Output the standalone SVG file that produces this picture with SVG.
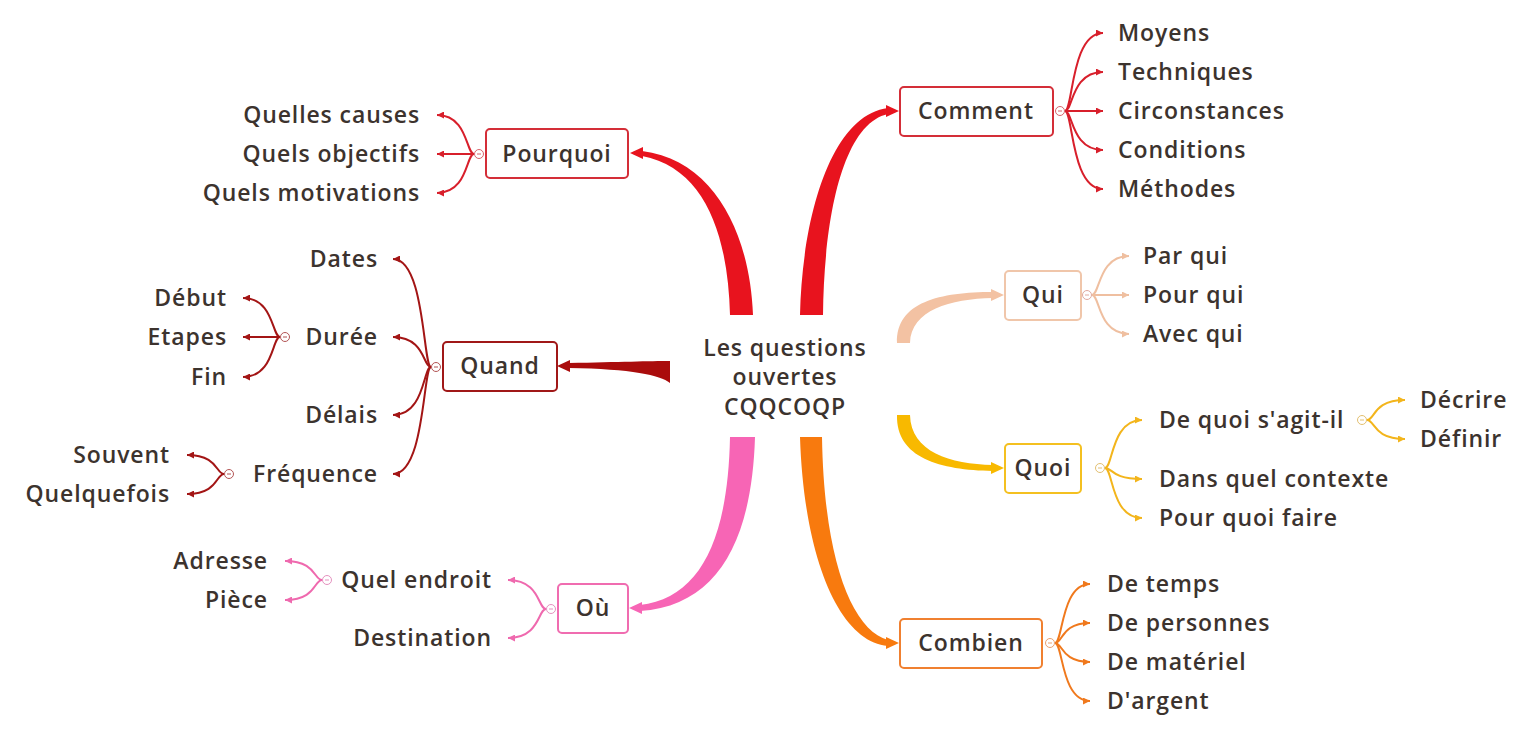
<svg xmlns="http://www.w3.org/2000/svg" width="1536" height="735" viewBox="0 0 1536 735">
<style>
text{font-family:"Open Sans","Noto Sans","Liberation Sans",sans-serif;font-weight:600;font-size:23px;letter-spacing:0.9px;fill:#3c332e}
.e{text-anchor:end}.m{text-anchor:middle}
.box{fill:#fff;stroke-width:2}
.br{fill:none;stroke-width:2}
.knob{fill:#fff;stroke-width:1}
</style>
<defs>
<marker id="a-red" viewBox="0 0 10 10" refX="10" refY="5" markerWidth="7" markerHeight="7" markerUnits="userSpaceOnUse" orient="auto"><path d="M0,0 L10,5 L0,10 z" fill="#d81f2b"/></marker>
<marker id="a-dred" viewBox="0 0 10 10" refX="10" refY="5" markerWidth="7" markerHeight="7" markerUnits="userSpaceOnUse" orient="auto"><path d="M0,0 L10,5 L0,10 z" fill="#a31515"/></marker>
<marker id="a-peach" viewBox="0 0 10 10" refX="10" refY="5" markerWidth="7" markerHeight="7" markerUnits="userSpaceOnUse" orient="auto"><path d="M0,0 L10,5 L0,10 z" fill="#efbfa0"/></marker>
<marker id="a-yel" viewBox="0 0 10 10" refX="10" refY="5" markerWidth="7" markerHeight="7" markerUnits="userSpaceOnUse" orient="auto"><path d="M0,0 L10,5 L0,10 z" fill="#f3b51c"/></marker>
<marker id="a-pink" viewBox="0 0 10 10" refX="10" refY="5" markerWidth="7" markerHeight="7" markerUnits="userSpaceOnUse" orient="auto"><path d="M0,0 L10,5 L0,10 z" fill="#ef69ae"/></marker>
<marker id="a-or" viewBox="0 0 10 10" refX="10" refY="5" markerWidth="7" markerHeight="7" markerUnits="userSpaceOnUse" orient="auto"><path d="M0,0 L10,5 L0,10 z" fill="#f0791d"/></marker>
</defs>
<rect width="1536" height="735" fill="#fff"/>

<g id="connectors">
  <g id="main-connectors">
    <path d="M753,315 C750,235 715,160 642,151 L642,156 C705,168 728,235 730,315 Z" fill="#e8131e"/>
    <path d="M630,153 L643,147 L643,159 Z" fill="#e8131e"/>
    <path d="M800,315 C802,220 830,115 888,108 L888,114 C842,124 824,220 823,315 Z" fill="#e8131e"/>
    <path d="M899,111 L886,105 L886,117 Z" fill="#e8131e"/>
    <path d="M897,343 C896,302 940,292 993,292 L993,298 C950,299 911,310 910,343 Z" fill="#f3c2a3"/>
    <path d="M1004,295 L991,289 L991,301 Z" fill="#f3c2a3"/>
    <path d="M670,361 L670,383 C660,375 632,369 569,368 L569,363 C620,362 650,361 670,361 Z" fill="#aa0c0c"/>
    <path d="M557,366 L570,360 L570,372 Z" fill="#aa0c0c"/>
    <path d="M897,415 C896,458 940,470 993,471 L993,465 C950,464 911,452 910,415 Z" fill="#f8b900"/>
    <path d="M1004,468 L991,462 L991,474 Z" fill="#f8b900"/>
    <path d="M755,437 C752,540 718,606 640,611 L640,605 C700,598 728,540 730,437 Z" fill="#f765b5"/>
    <path d="M629,608 L642,602 L642,614 Z" fill="#f765b5"/>
    <path d="M800,437 C804,560 840,642 888,646 L888,640 C852,630 824,560 822,437 Z" fill="#f87a0e"/>
    <path d="M899,643 L886,637 L886,649 Z" fill="#f87a0e"/>
  </g>
  <g id="pourquoi-branches" stroke="#d81f2b" marker-end="url(#a-red)">
    <path class="br" d="M474,154 C466,154 468,115 437,115"/>
    <path class="br" d="M474,154 L437,154"/>
    <path class="br" d="M474,154 C466,154 468,193 437,193"/>
  </g>
  <g id="comment-branches" stroke="#d81f2b" marker-end="url(#a-red)">
    <path class="br" d="M1065,111 C1073,111 1071,33 1103,33"/>
    <path class="br" d="M1065,111 C1073,111 1071,72 1103,72"/>
    <path class="br" d="M1065,111 L1103,111"/>
    <path class="br" d="M1065,111 C1073,111 1071,150 1103,150"/>
    <path class="br" d="M1065,111 C1073,111 1071,189 1103,189"/>
  </g>
  <g id="qui-branches" stroke="#efbfa0" marker-end="url(#a-peach)">
    <path class="br" d="M1092,295 C1100,295 1098,256 1129,256"/>
    <path class="br" d="M1092,295 L1129,295"/>
    <path class="br" d="M1092,295 C1100,295 1098,334 1129,334"/>
  </g>
  <g id="quand-branches" stroke="#a31515" marker-end="url(#a-dred)">
    <path class="br" d="M431,367 C423,367 425,259 393,259"/>
    <path class="br" d="M431,367 C423,367 425,337 393,337"/>
    <path class="br" d="M431,367 C423,367 425,415 393,415"/>
    <path class="br" d="M431,367 C423,367 425,474 393,474"/>
    <path class="br" d="M280,337 C272,337 274,298 243,298"/>
    <path class="br" d="M280,337 L243,337"/>
    <path class="br" d="M280,337 C272,337 274,377 243,377"/>
    <path class="br" d="M224,474 C216,474 218,455 187,455"/>
    <path class="br" d="M224,474 C216,474 218,494 187,494"/>
  </g>
  <g id="quoi-branches" stroke="#f3b51c" marker-end="url(#a-yel)">
    <path class="br" d="M1105,468 C1113,468 1111,420 1142,420"/>
    <path class="br" d="M1105,468 C1113,468 1111,479 1142,479"/>
    <path class="br" d="M1105,468 C1113,468 1111,518 1142,518"/>
    <path class="br" d="M1367,420 C1375,420 1373,400 1405,400"/>
    <path class="br" d="M1367,420 C1375,420 1373,439 1405,439"/>
  </g>
  <g id="ou-branches" stroke="#ef69ae" marker-end="url(#a-pink)">
    <path class="br" d="M546,609 C538,609 540,580 508,580"/>
    <path class="br" d="M546,609 C538,609 540,638 508,638"/>
    <path class="br" d="M322,580 C314,580 316,561 285,561"/>
    <path class="br" d="M322,580 C314,580 316,600 285,600"/>
  </g>
  <g id="combien-branches" stroke="#f0791d" marker-end="url(#a-or)">
    <path class="br" d="M1055,643 C1063,643 1061,584 1090,584"/>
    <path class="br" d="M1055,643 C1063,643 1061,623 1090,623"/>
    <path class="br" d="M1055,643 C1063,643 1061,662 1090,662"/>
    <path class="br" d="M1055,643 C1063,643 1061,701 1090,701"/>
  </g>
  <g id="knobs" stroke-width="1">
    <g stroke="#d8636b"><circle class="knob" cx="479" cy="154" r="4.5"/><path d="M477,154 h4"/><circle class="knob" cx="1060" cy="111" r="4.5"/><path d="M1058,111 h4"/></g>
    <g stroke="#e0aaa0"><circle class="knob" cx="1087" cy="295" r="4.5"/><path d="M1085,295 h4"/></g>
    <g stroke="#b35555"><circle class="knob" cx="436" cy="367" r="4.5"/><path d="M434,367 h4"/><circle class="knob" cx="285" cy="337" r="4.5"/><path d="M283,337 h4"/><circle class="knob" cx="229" cy="474" r="4.5"/><path d="M227,474 h4"/></g>
    <g stroke="#e3c070"><circle class="knob" cx="1100" cy="468" r="4.5"/><path d="M1098,468 h4"/><circle class="knob" cx="1362" cy="420" r="4.5"/><path d="M1360,420 h4"/></g>
    <g stroke="#e592bf"><circle class="knob" cx="551" cy="609" r="4.5"/><path d="M549,609 h4"/><circle class="knob" cx="327" cy="580" r="4.5"/><path d="M325,580 h4"/></g>
    <g stroke="#e9a070"><circle class="knob" cx="1050" cy="643" r="4.5"/><path d="M1048,643 h4"/></g>
  </g>
</g>

<g id="center">
  <text class="m" x="785" y="356">Les questions</text>
  <text class="m" x="785" y="385">ouvertes</text>
  <text class="m" x="785" y="415">CQQCOQP</text>
</g>

<g id="pourquoi">
  <rect class="box" x="486" y="129" width="142" height="49" rx="4" stroke="#d42e38"/>
  <text class="m" x="557" y="162">Pourquoi</text>
</g>
<g id="pourquoi-children">
  <text class="e" x="420" y="123">Quelles causes</text>
  <text class="e" x="420" y="162">Quels objectifs</text>
  <text class="e" x="420" y="201">Quels motivations</text>
</g>

<g id="comment">
  <rect class="box" x="900" y="87" width="153" height="49" rx="4" stroke="#d42e38"/>
  <text class="m" x="976" y="119">Comment</text>
</g>
<g id="comment-children">
  <text x="1118" y="41">Moyens</text>
  <text x="1118" y="80">Techniques</text>
  <text x="1118" y="119">Circonstances</text>
  <text x="1118" y="158">Conditions</text>
  <text x="1118" y="197">Méthodes</text>
</g>

<g id="qui">
  <rect class="box" x="1005" y="271" width="76" height="49" rx="4" stroke="#f0c6aa"/>
  <text class="m" x="1043" y="303">Qui</text>
</g>
<g id="qui-children">
  <text x="1143" y="264">Par qui</text>
  <text x="1143" y="303">Pour qui</text>
  <text x="1143" y="342">Avec qui</text>
</g>

<g id="quand">
  <rect class="box" x="443" y="342" width="114" height="49" rx="4" stroke="#a01818"/>
  <text class="m" x="500" y="374">Quand</text>
</g>
<g id="quand-children">
  <text class="e" x="378" y="267">Dates</text>
  <text class="e" x="378" y="345">Durée</text>
  <text class="e" x="378" y="423">Délais</text>
  <text class="e" x="378" y="482">Fréquence</text>
  <text class="e" x="227" y="306">Début</text>
  <text class="e" x="227" y="345">Etapes</text>
  <text class="e" x="227" y="385">Fin</text>
  <text class="e" x="170" y="463">Souvent</text>
  <text class="e" x="170" y="502">Quelquefois</text>
</g>

<g id="quoi">
  <rect class="box" x="1005" y="444" width="76" height="49" rx="4" stroke="#f4c020"/>
  <text class="m" x="1043" y="476">Quoi</text>
</g>
<g id="quoi-children">
  <text x="1159" y="428">De quoi s'agit-il</text>
  <text x="1159" y="487">Dans quel contexte</text>
  <text x="1159" y="526">Pour quoi faire</text>
  <text x="1420" y="408">Décrire</text>
  <text x="1420" y="447">Définir</text>
</g>

<g id="ou">
  <rect class="box" x="558" y="584" width="70" height="49" rx="4" stroke="#f06cb0"/>
  <text class="m" x="593" y="616">Où</text>
</g>
<g id="ou-children">
  <text class="e" x="492" y="588">Quel endroit</text>
  <text class="e" x="492" y="646">Destination</text>
  <text class="e" x="268" y="569">Adresse</text>
  <text class="e" x="268" y="608">Pièce</text>
</g>

<g id="combien">
  <rect class="box" x="900" y="619" width="142" height="49" rx="4" stroke="#f08030"/>
  <text class="m" x="971" y="651">Combien</text>
</g>
<g id="combien-children">
  <text x="1107" y="592">De temps</text>
  <text x="1107" y="631">De personnes</text>
  <text x="1107" y="670">De matériel</text>
  <text x="1107" y="709">D'argent</text>
</g>
</svg>
